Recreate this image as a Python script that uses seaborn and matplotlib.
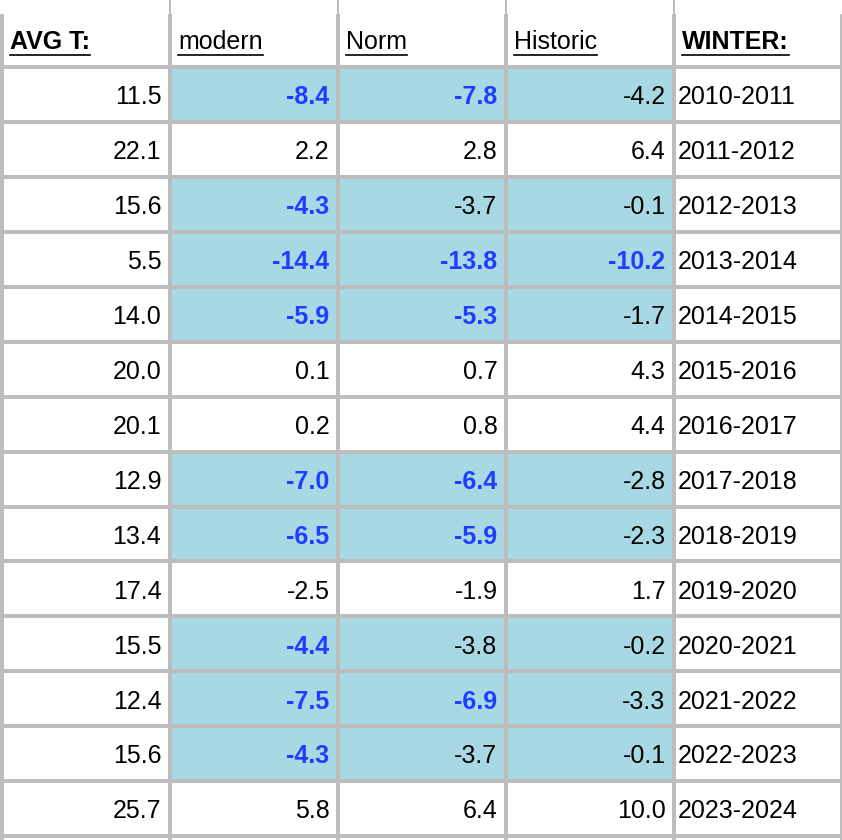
import numpy as np
import matplotlib
matplotlib.use('Agg')
import matplotlib.pyplot as plt
import seaborn as sns
from matplotlib.colors import ListedColormap

headers = ['AVG T:', 'modern', 'Norm', 'Historic', 'WINTER:']
header_bold = [True, False, False, False, True]
avg_t = [11.5, 22.1, 15.6, 5.5, 14.0, 20.0, 20.1, 12.9, 13.4, 17.4, 15.5, 12.4, 15.6, 25.7]
modern = [-8.4, 2.2, -4.3, -14.4, -5.9, 0.1, 0.2, -7.0, -6.5, -2.5, -4.4, -7.5, -4.3, 5.8]
norm = [-7.8, 2.8, -3.7, -13.8, -5.3, 0.7, 0.8, -6.4, -5.9, -1.9, -3.8, -6.9, -3.7, 6.4]
historic = [-4.2, 6.4, -0.1, -10.2, -1.7, 4.3, 4.4, -2.8, -2.3, 1.7, -0.2, -3.3, -0.1, 10.0]
winters = ['2010-2011', '2011-2012', '2012-2013', '2013-2014', '2014-2015', '2015-2016',
           '2016-2017', '2017-2018', '2018-2019', '2019-2020', '2020-2021', '2021-2022',
           '2022-2023', '2023-2024']

n = len(avg_t)
# shading: cold winters get blue cells in the three anomaly columns
shade = np.zeros((n + 2, 5))
for i, t in enumerate(avg_t):
    if t < 16:
        shade[i + 1, 1:4] = 1

fig = plt.figure(figsize=(8.42, 8.40), dpi=100)
ax = fig.add_axes([0, 0, 1, 1])
sns.heatmap(shade, ax=ax, cmap=ListedColormap(['white', '#a8d8e3']), cbar=False,
            linewidths=1.5, linecolor='#bdbdbd', vmin=0, vmax=1)
ax.set_xticks([])
ax.set_yticks([])
ax.set_xlim(-0.01, 5.0)
ax.set_ylim(15.07, -0.22)
for s in ax.spines.values():
    s.set_visible(False)
# hide the top border line of the grid (cropped in the reference)
ax.axhspan(-0.3, 0.02, color='white', zorder=1.5)
for x in range(1, 5):
    ax.plot([x, x], [-0.3, 0.5], color='#bdbdbd', lw=1.5, zorder=1.6)

font = 'Liberation Sans'
fs = 18
pad = 0.05
header_texts = []
for j, h in enumerate(headers):
    t = ax.text(j + pad, 0.55, h, ha='left', va='center', fontsize=fs, family=font,
                fontweight='bold' if header_bold[j] else 'normal', color='black')
    header_texts.append(t)

for i in range(n):
    y = i + 1.55
    ax.text(1 - pad, y, f'{avg_t[i]:.1f}', ha='right', va='center', fontsize=fs, family=font)
    for j, col in enumerate([modern, norm, historic]):
        v = col[i]
        hot = v < -4.25 and not (j == 2 and v > -5)
        ax.text(j + 2 - pad, y, f'{v:.1f}', ha='right', va='center', fontsize=fs, family=font,
                color='#1f3dff' if hot else 'black', fontweight='bold' if hot else 'normal')
    ax.text(4 + 0.02, y, winters[i], ha='left', va='center', fontsize=fs, family=font)

# underline headers
fig.canvas.draw()
r = fig.canvas.get_renderer()
inv = ax.transData.inverted()
for t in header_texts:
    bb = t.get_window_extent(r)
    (x0, y0), (x1, _) = inv.transform([(bb.x0, bb.y0 - 1), (bb.x1, bb.y0 - 1)])
    ax.plot([x0, x1], [y0, y0], color='black', lw=1.2, zorder=3)

fig.savefig('out.png', dpi=100)
